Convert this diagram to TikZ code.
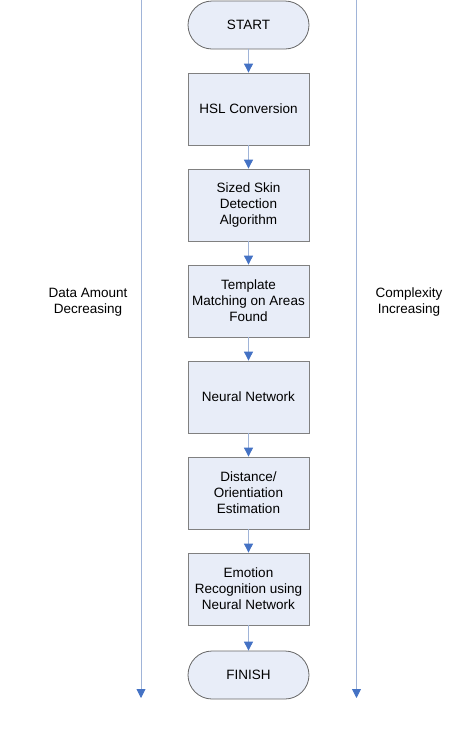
\documentclass[tikz,border=0pt]{standalone}
\usepackage{fontspec}
\setmainfont{Liberation Sans}
\usepackage{tikz}
\usetikzlibrary{arrows.meta,positioning}
\definecolor{flowFill}{RGB}{232,237,248}
\definecolor{flowEdge}{RGB}{128,128,128}
\definecolor{flowLine}{RGB}{160,180,216}
\definecolor{flowTip}{RGB}{68,114,196}
\tikzset{
  stepbox/.style={draw=flowEdge, fill=flowFill, line width=0.8pt, minimum width=121pt,
    minimum height=72pt, inner sep=2pt, align=center},
  termbox/.style={draw=flowEdge!80!black, fill=flowFill, line width=0.8pt, rounded corners=24pt,
    minimum width=121pt, minimum height=48pt, inner sep=2pt},
  flow/.style={draw=flowLine, line width=0.9pt, -{Triangle[width=9pt,length=9pt,color=flowTip]}},
  sidetext/.style={align=center}
}

\begin{document}
\begin{tikzpicture}[x=1pt, y=-1pt, font=\fontsize{13.5}{16}\selectfont]
    \useasboundingbox (0,0) rectangle (474,737);

    \node[termbox] (start) at (248.5,25) {START};
    \node[stepbox] (hsl) at (248.5,109) {HSL Conversion};
    \node[stepbox] (skin) at (248.5,205) {Sized Skin\\Detection\\Algorithm};
    \node[stepbox] (match) at (248.5,301) {Template\\Matching on Areas\\Found};
    \node[stepbox] (nnet) at (248.5,397) {Neural Network};
    \node[stepbox] (dist) at (248.5,493) {Distance/\\Orientiation\\Estimation};
    \node[stepbox] (emo) at (248.5,589) {Emotion\\Recognition using\\Neural Network};
    \node[termbox] (finish) at (248.5,675) {FINISH};

    \draw[flow] (start) -- (hsl);
    \draw[flow] (hsl) -- (skin);
    \draw[flow] (skin) -- (match);
    \draw[flow] (match) -- (nnet);
    \draw[flow] (nnet) -- (dist);
    \draw[flow] (dist) -- (emo);
    \draw[flow] (emo) -- (finish);

    % side trends
    \coordinate (ltop) at (141,0);
    \coordinate (lend) at (141,698);
    \coordinate (rtop) at (356.5,0);
    \coordinate (rend) at (356.5,698);
    \draw[flow] (ltop) -- (lend);
    \draw[flow] (rtop) -- (rend);

    \node[sidetext] (data) at (88,302) {Data Amount\\Decreasing};
    \node[sidetext] (cplx) at (409,302) {Complexity\\Increasing};
\end{tikzpicture}
\end{document}
